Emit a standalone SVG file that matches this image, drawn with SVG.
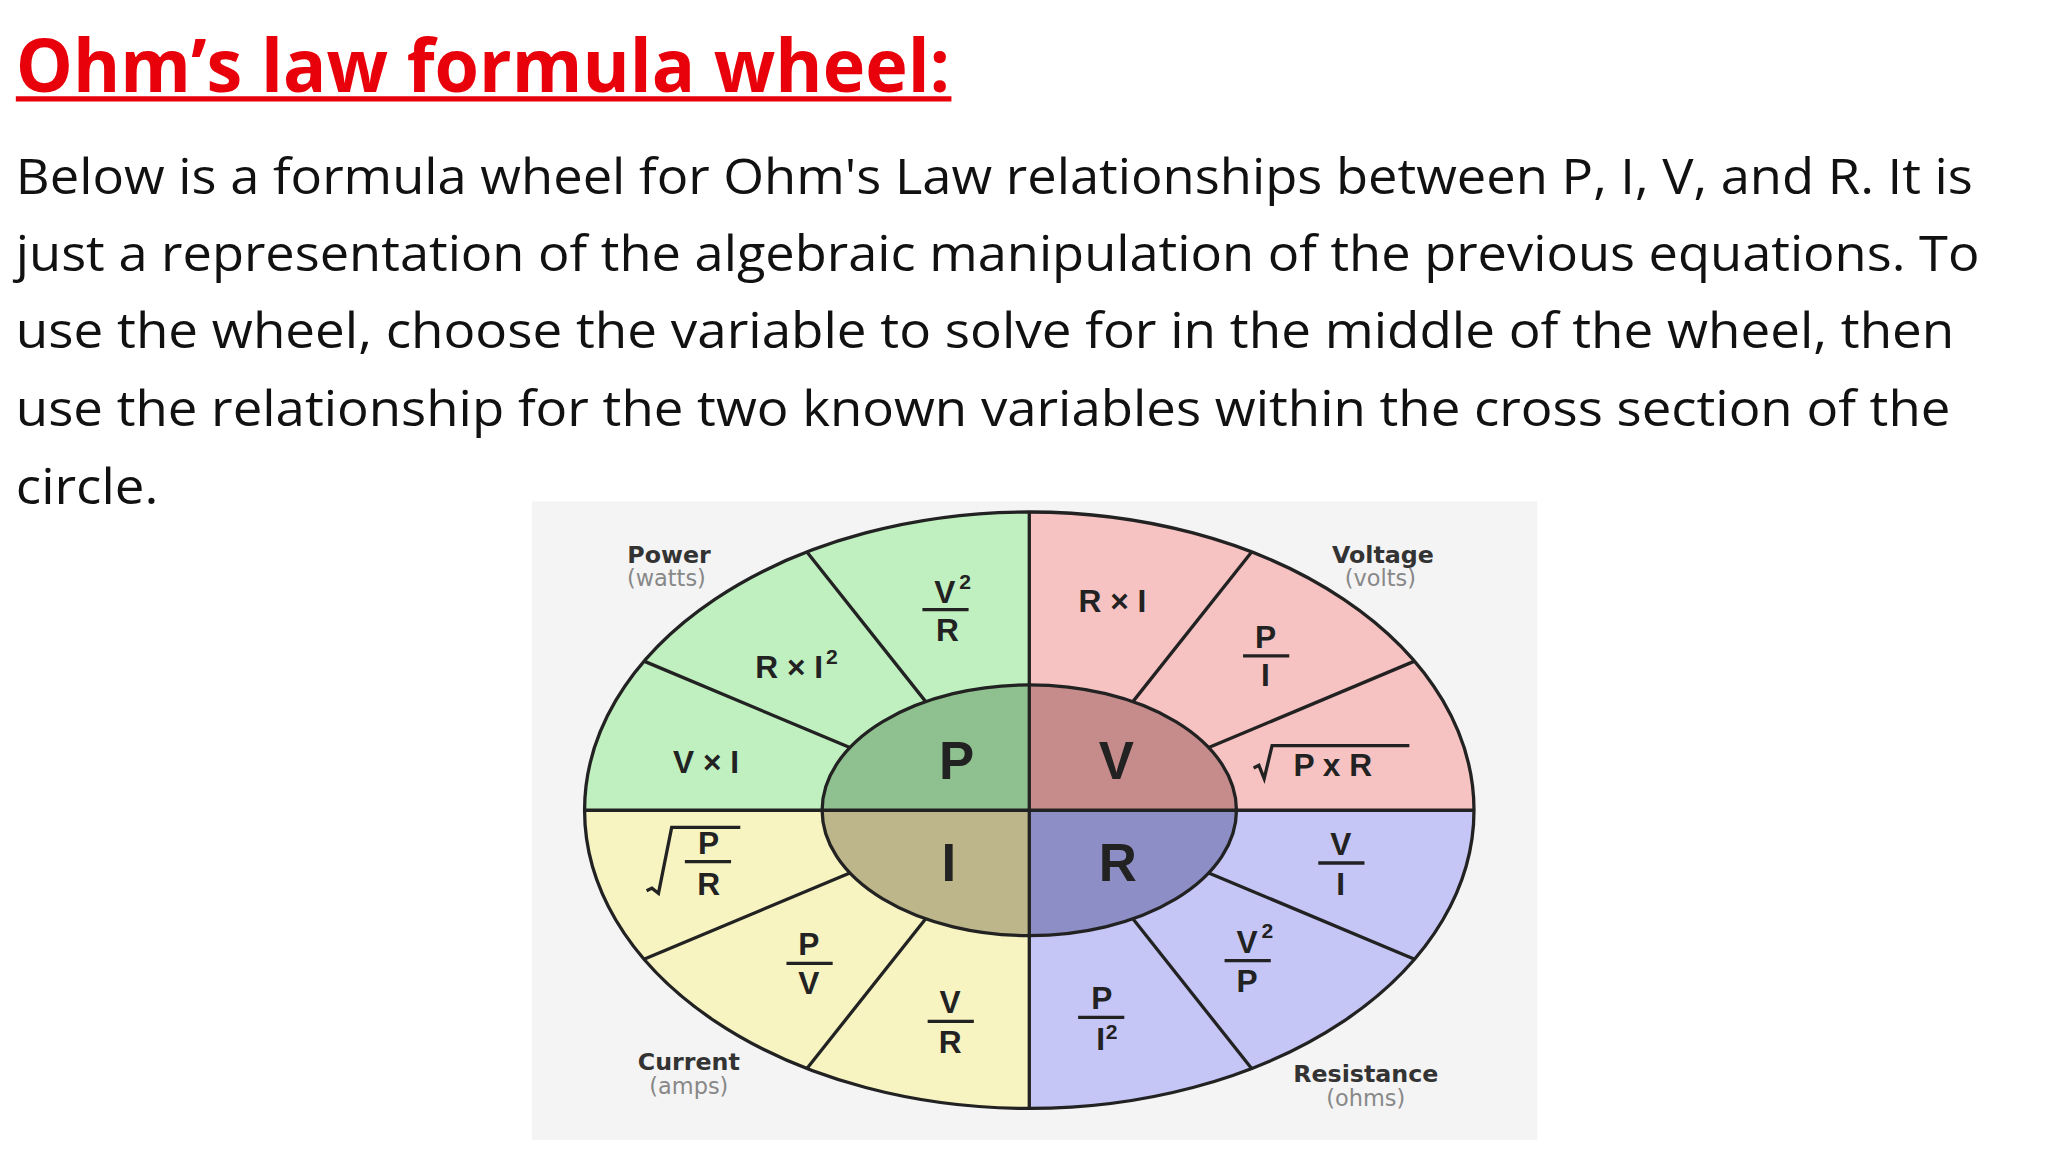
<svg xmlns="http://www.w3.org/2000/svg" width="2048" height="1152" viewBox="0 0 2048 1152">
<style>
.t{font-family:"Open Sans","Liberation Sans",sans-serif}
.f{font-family:"Liberation Sans",Arial,sans-serif;font-weight:bold;fill:#222;text-anchor:middle}
.sup{font-size:16px;text-anchor:start}
.lbl{font-family:"DejaVu Sans",sans-serif;font-weight:bold;fill:#333;text-anchor:middle;font-size:18px}
.sub{font-family:"DejaVu Sans",sans-serif;fill:#888;text-anchor:middle;font-size:17px}
.ln{stroke:#222;stroke-width:2.5;fill:none}
</style>
<rect width="2048" height="1152" fill="#fff"/>
<g transform="scale(1.3196)">
<g id="title"><text class="t" x="12" y="70" font-size="56" font-weight="bold" fill="#e8000b" textLength="708" lengthAdjust="spacingAndGlyphs">Ohm’s law formula wheel:</text>
<line x1="12" y1="75" x2="721" y2="75" stroke="#e8000b" stroke-width="4"/></g>
<g id="para" class="t" font-size="38" fill="#111">
<text x="12" y="147" textLength="1483" lengthAdjust="spacingAndGlyphs">Below is a formula wheel for Ohm's Law relationships between P, I, V, and R. It is</text>
<text x="12" y="205" textLength="1488" lengthAdjust="spacingAndGlyphs">just a representation of the algebraic manipulation of the previous equations. To</text>
<text x="12" y="264" textLength="1469" lengthAdjust="spacingAndGlyphs">use the wheel, choose the variable to solve for in the middle of the wheel, then</text>
<text x="12" y="323" textLength="1466" lengthAdjust="spacingAndGlyphs">use the relationship for the two known variables within the cross section of the</text>
<text x="12" y="382" textLength="108" lengthAdjust="spacingAndGlyphs">circle.</text>
</g>
<g id="wheel">
<rect x="403" y="380" width="762" height="484" fill="#f4f4f4"/>
<path d="M780,614 L443,614 A337,226 0 0 1 780,388 Z" fill="#c0f0c0"/>
<path d="M780,614 L780,388 A337,226 0 0 1 1117,614 Z" fill="#f6c2c2"/>
<path d="M780,614 L1117,614 A337,226 0 0 1 780,840 Z" fill="#c6c6f6"/>
<path d="M780,614 L780,840 A337,226 0 0 1 443,614 Z" fill="#f7f4c2"/>
<path d="M780,614 L623,614 A157,95 0 0 1 780,519 Z" fill="#8fc08f"/>
<path d="M780,614 L780,519 A157,95 0 0 1 937,614 Z" fill="#c68c8c"/>
<path d="M780,614 L937,614 A157,95 0 0 1 780,709 Z" fill="#8e8ec6"/>
<path d="M780,614 L780,709 A157,95 0 0 1 623,614 Z" fill="#bdb68a"/>
<g id="connectors" class="ln">
<ellipse cx="780" cy="614" rx="337" ry="226"/>
<ellipse cx="780" cy="614" rx="157" ry="95"/>
<line x1="780" y1="388" x2="780" y2="840"/>
<line x1="443" y1="614" x2="1117" y2="614"/>
<line x1="916" y1="566.5" x2="1072" y2="501"/>
<line x1="858.5" y1="531.7" x2="948.5" y2="418.3"/>
<line x1="701.5" y1="531.7" x2="611.5" y2="418.3"/>
<line x1="644" y1="566.5" x2="488" y2="501"/>
<line x1="644" y1="661.5" x2="488" y2="727"/>
<line x1="701.5" y1="696.3" x2="611.5" y2="809.7"/>
<line x1="858.5" y1="696.3" x2="948.5" y2="809.7"/>
<line x1="916" y1="661.5" x2="1072" y2="727"/>
</g>
<g id="centers" class="f" font-size="40">
<text x="725" y="590">P</text><text x="846" y="590">V</text>
<text x="719" y="668">I</text><text x="847" y="668">R</text>
</g>
<g id="corner-labels">
<text class="lbl" x="507" y="427">Power</text><text class="sub" x="505" y="444">(watts)</text>
<text class="lbl" x="1048" y="427">Voltage</text><text class="sub" x="1046" y="444">(volts)</text>
<text class="lbl" x="522" y="811">Current</text><text class="sub" x="522" y="829">(amps)</text>
<text class="lbl" x="1035" y="820">Resistance</text><text class="sub" x="1035" y="838">(ohms)</text>
</g>
<g id="formulas" class="f" font-size="24">
<text x="716" y="457">V</text><text class="sup" x="727" y="446">2</text><line x1="699" y1="462" x2="734" y2="462" stroke="#222" stroke-width="2.5"/><text x="718" y="486">R</text>
<text x="843" y="464">R × I</text>
<text x="959" y="491">P</text><line x1="942" y1="497" x2="977" y2="497" stroke="#222" stroke-width="2.5"/><text x="959" y="520">I</text>
<text x="1010" y="588">P x R</text><path d="M950,582 l4,-2 4,10 6,-25 h104" stroke="#222" stroke-width="2.5" fill="none"/>
<text x="598" y="514">R × I</text><text class="sup" x="626" y="503">2</text>
<text x="535" y="586">V × I</text>
<path d="M490,675 l4,-2 5,4 10,-50 h52" stroke="#222" stroke-width="2.5" fill="none"/><text x="537" y="647">P</text><line x1="519" y1="653" x2="554" y2="653" stroke="#222" stroke-width="2.5"/><text x="537" y="678">R</text>
<text x="613" y="724">P</text><line x1="596" y1="730" x2="631" y2="730" stroke="#222" stroke-width="2.5"/><text x="613" y="753">V</text>
<text x="720" y="768">V</text><line x1="703" y1="774" x2="738" y2="774" stroke="#222" stroke-width="2.5"/><text x="720" y="798">R</text>
<text x="835" y="765">P</text><line x1="817" y1="771" x2="852" y2="771" stroke="#222" stroke-width="2.5"/><text x="834" y="796">I</text><text class="sup" x="838" y="787">2</text>
<text x="945" y="722">V</text><text class="sup" x="956" y="711">2</text><line x1="928" y1="728" x2="963" y2="728" stroke="#222" stroke-width="2.5"/><text x="945" y="752">P</text>
<text x="1016" y="648">V</text><line x1="999" y1="654" x2="1034" y2="654" stroke="#222" stroke-width="2.5"/><text x="1016" y="678">I</text>
</g>
</g>
</g>
</svg>
